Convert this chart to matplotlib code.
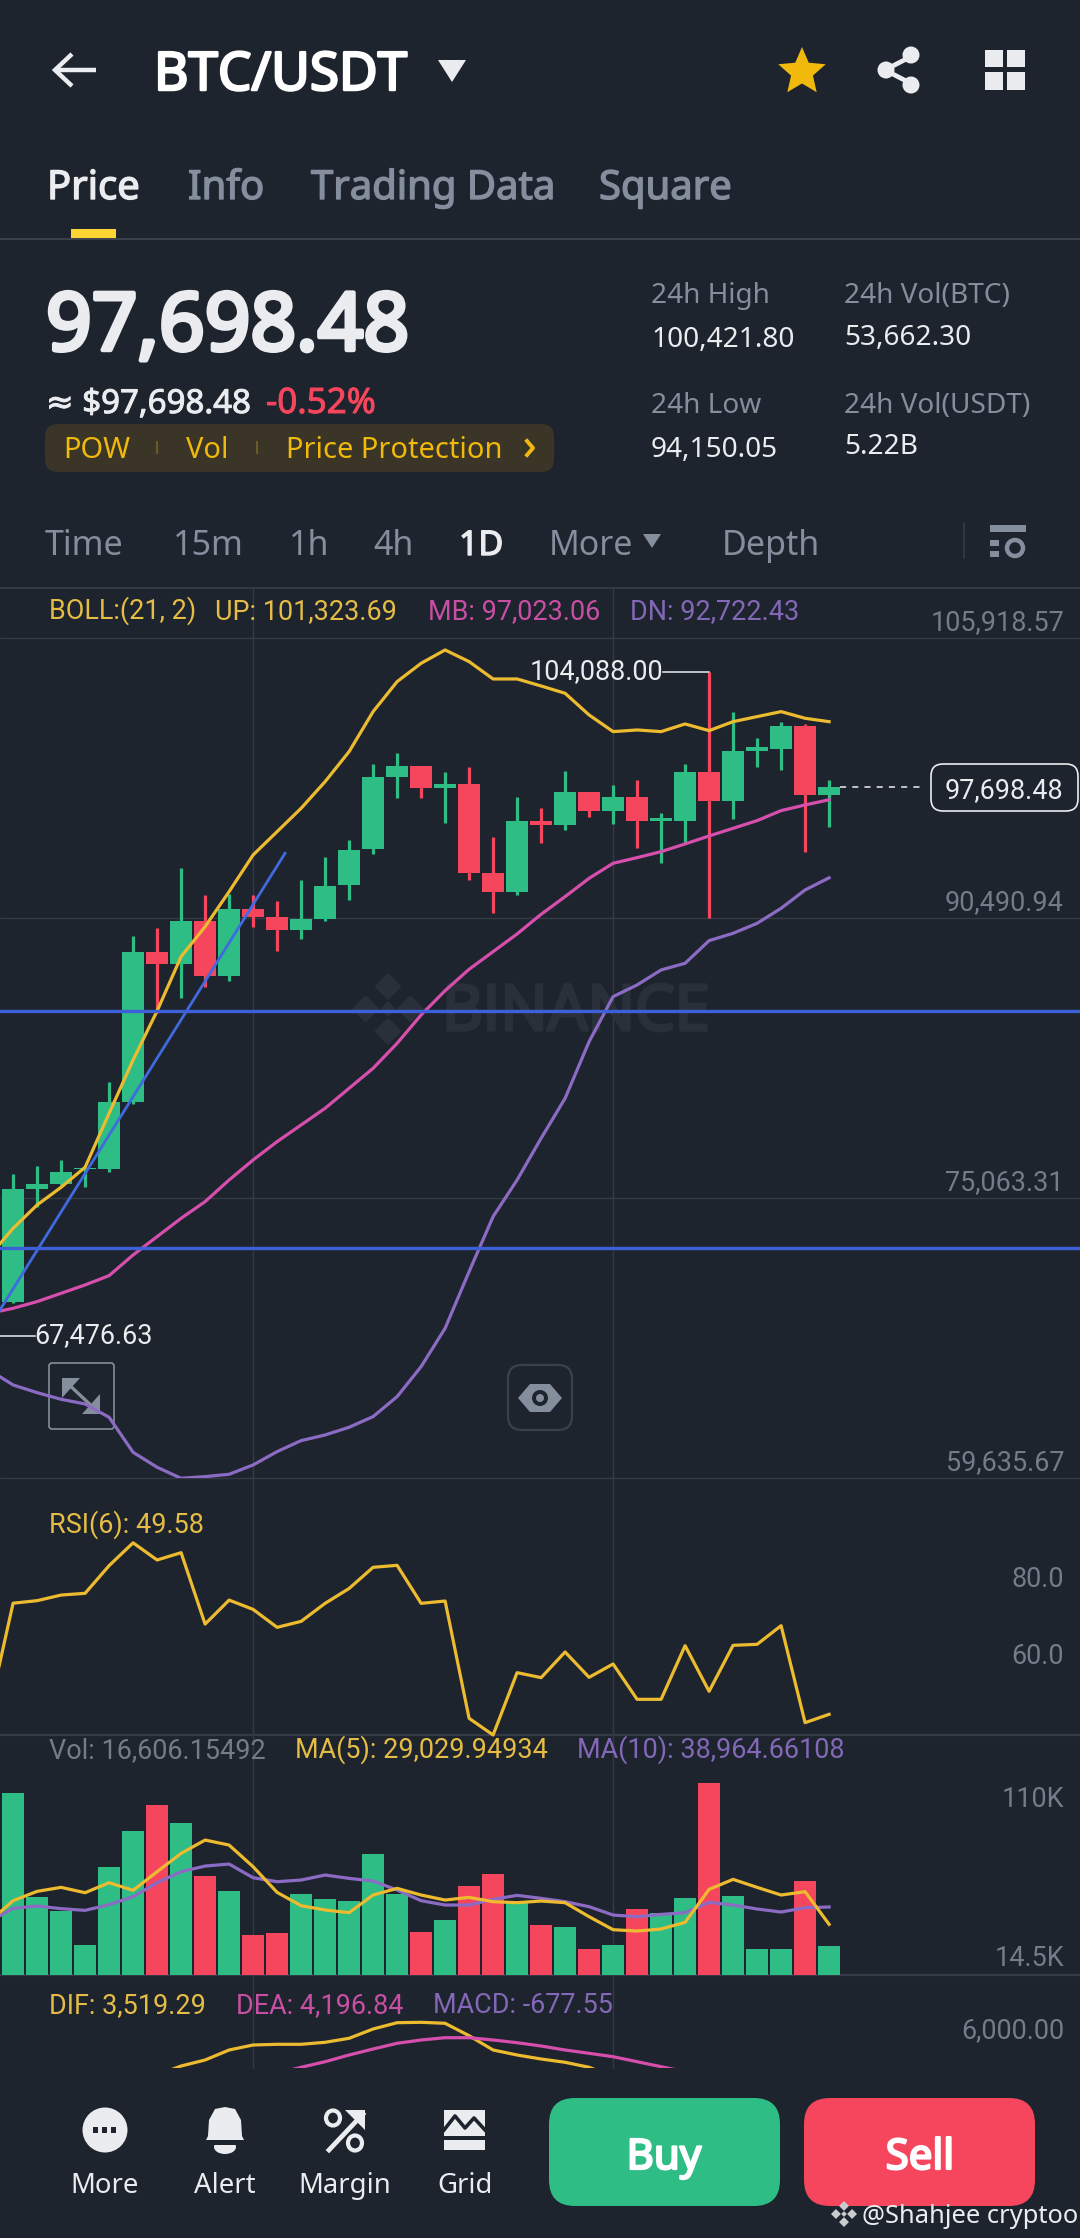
# plot.py
# BTC/USDT daily chart screen: candles with bollinger bands, rsi, volume and macd

import numpy as np
import matplotlib
matplotlib.use("Agg")
import matplotlib.pyplot as plt
import matplotlib.patheffects as pe
from matplotlib.patches import FancyBboxPatch, Polygon, Circle, Ellipse, Rectangle

WIDTH = 1080
HEIGHT = 2238
DPI = 100

BG = "#1E242E"
GRID = "#343B46"
GREEN = "#2EBD85"
RED = "#F6465D"
WHITE = "#EAECEF"
GREY = "#848E9C"
AXIS_GREY = "#747C89"
YELLOW = "#F0B90B"
LINE_YELLOW = "#EDBB2F"
LINE_PINK = "#D64FAC"
LINE_PURPLE = "#8B6BC4"
TEXT_YELLOW = "#E5BD45"
TEXT_PINK = "#C94FA5"
TEXT_PURPLE = "#8468B8"
BLUE = "#3D60D8"

UI_FONT = ["Noto Sans", "DejaVu Sans"]
CHART_FONT = "Roboto"
LINE_WIDTH = 2.3

# candles, one per day, day 0 is the first one on screen
opens = [69371, 75578, 75854, 76662, 76662, 80372, 88637, 87957, 90363, 87333, 91006, 90565,
         89849, 90455, 92310, 94293, 98297, 98885, 97673, 97893, 93008, 91942, 95873, 95634,
         97452, 96405, 97177, 95836, 95854, 98573, 96956, 99730, 99821, 101107, 97269]
highs = [76387, 76846, 77176, 76717, 81492, 89518, 89941, 93246, 91777, 91832, 91777, 91447,
         92604, 93889, 94808, 98995, 99583, 98885, 98554, 98848, 94954, 97195, 96552, 98609,
         97452, 97820, 98113, 96277, 98995, 104088, 101878, 100409, 101327, 101199, 98113]
lows = [69316, 74605, 75799, 75707, 76497, 80262, 85257, 86120, 86690, 87057, 90032, 88710,
        89353, 90363, 91502, 94036, 97103, 97103, 95726, 92604, 90767, 91777, 94624, 95359,
        96056, 95689, 94385, 93559, 94624, 90491, 95965, 98848, 98664, 94150, 95542]
closes = [75560, 75836, 76497, 76717, 80372, 88637, 87957, 90363, 87333, 91006, 90583, 89849,
          90436, 92291, 94275, 98297, 98885, 97673, 97893, 93008, 91942, 95854, 95616, 97452,
          96405, 97177, 95836, 96020, 98573, 96956, 99730, 99913, 101107, 97269, 97698.48]

# bollinger bands, these start one day before the first candle
boll_up = [71850, 73411, 74697, 75670, 76772, 79747, 82686, 85386, 88379, 90032, 91961, 93981,
           95267, 96552, 98022, 99675, 101879, 103531, 104542, 105276, 104634, 103678, 103678,
           103292, 102889, 101695, 100777, 100868, 100777, 101199, 100831, 101327, 101603,
           101879, 101511, 101323.69]
boll_mb = [68728, 69003, 69371, 69830, 70289, 70803, 71942, 72952, 73962, 74880, 76074, 77176,
           78186, 79105, 80023, 81125, 82227, 83604, 85165, 86506, 87682, 88655, 89628, 90712,
           91685, 92695, 93522, 93834, 94165, 94587, 95028, 95450, 95873, 96424, 96736, 97023.06]
boll_dn = [65606, 64778, 64356, 63989, 63732, 62998, 61069, 60243, 59637, 59729, 59857, 60371,
           61106, 61712, 62024, 62447, 63035, 64136, 65789, 67902, 71024, 74054, 76074, 78370,
           80574, 83696, 86176, 86818, 87645, 88012, 89261, 89665, 90216, 91042, 92053, 92722.43]

# lines drawn by the user on the chart
trend_days = [-0.55, 11.33]
trend_prices = [68911, 94073]
level_prices = [85386, 72346]

# rsi starts one day before the first candle too
rsi6 = [50.5, 78.3, 78.95, 80.4, 80.85, 88.0, 93.9, 89.46, 91.35, 72.9, 79.1, 76.7, 72.06, 73.6,
        78.26, 82.1, 87.57, 88.08, 78.26, 78.86, 48.55, 44.24, 60.35, 59.06, 65.69, 59.14, 62.59,
        53.46, 53.46, 67.32, 55.52, 67.41, 67.67, 72.49, 47.43, 49.58]

volumes = [104040, 44860, 36650, 16990, 61850, 82470, 97360, 86860, 56700, 47920, 22910, 23860,
           46580, 43720, 42190, 69300, 46200, 24820, 31310, 50970, 57840, 42000, 28830, 27680,
           14700, 16990, 37990, 35700, 43910, 110000, 45240, 15080, 14700, 54020, 16606.15]
vol_ma5 = [30540, 42570, 47920, 50210, 47150, 52880, 48490, 59180, 69680, 77310, 74450, 62040,
           47340, 39710, 37230, 35700, 45820, 49630, 45820, 42950, 44480, 42000, 41430, 42380,
           41430, 33410, 25960, 25200, 26340, 30160, 49060, 54790, 50210, 45820, 47730, 29029.95]
vol_ma10 = [30540, 38180, 39520, 37990, 37030, 40280, 44860, 52880, 59180, 62420, 63570, 55740,
            53450, 54410, 57270, 55360, 53830, 48680, 42570, 40090, 40090, 43330, 45630, 43910,
            42000, 39130, 34360, 33410, 34740, 35700, 41620, 40090, 37800, 36080, 38560, 38964.66]

# only the part of macd above the screen cut is visible
dif_start = 6
dif_values = [3200, 4100, 4700, 5700, 6200, 6270, 6270, 6470, 6870, 7800, 8430, 8470, 8370, 7130,
              5700, 5200, 4800, 4470, 3970, 3030]
dea_start = 11
dea_values = [3370, 3970, 4530, 5200, 5800, 6370, 6700, 6930, 6930, 6700, 6430, 6100, 5700, 5370,
              5030, 4530, 4030, 3530]

price_ticks = ["105,918.57", "90,490.94", "75,063.31", "59,635.67"]
price_top = 105918.57
price_bottom = 59635.67
grid_days = [10, 25]

tabs = ["Price", "Info", "Trading Data", "Square"]
intervals = ["Time", "15m", "1h", "4h", "1D", "More", "Depth"]
actions = ["More", "Alert", "Margin", "Grid"]

fig = plt.figure(figsize=(WIDTH / DPI, HEIGHT / DPI), dpi=DPI, facecolor=BG)

# background axes in screen pixels, y goes down
screen = fig.add_axes([0, 0, 1, 1], zorder=0)
screen.set_xlim(0, WIDTH)
screen.set_ylim(HEIGHT, 0)
screen.axis("off")


# font size given in pixels
def pts(px):
    return px * 72 / DPI


# puts text on the screen axes, y is the baseline
# the installed fonts have no usable bold, so stroke thickens the letters
def label(x, y, s, color=WHITE, size=27, font=CHART_FONT, stroke=0, ha="left", va="baseline"):
    text = screen.text(x, y, s, color=color, fontsize=pts(size), family=font, ha=ha, va=va)
    if stroke:
        text.set_path_effects([pe.withStroke(linewidth=stroke, foreground=color)])
    return text


# makes a chart panel between two screen y positions
def panel(top, bottom, ymin, ymax):
    ax = fig.add_axes([0, 1 - bottom / HEIGHT, 1, (bottom - top) / HEIGHT], zorder=1)
    ax.set_xlim(-13.1 / 24, (WIDTH - 13.1) / 24)
    ax.set_ylim(ymin, ymax)
    ax.axis("off")
    ax.patch.set_alpha(0)
    return ax


def hline(y, x0=0, x1=WIDTH, color=GRID, lw=1.0):
    screen.plot([x0, x1], [y, y], color=color, lw=lw, solid_capstyle="butt")


def round_box(x0, y0, x1, y1, r, **kwargs):
    box = FancyBboxPatch((x0 + r, y0 + r), x1 - x0 - 2 * r, y1 - y0 - 2 * r,
                         boxstyle="round,pad=%g,rounding_size=%g" % (r, r), **kwargs)
    screen.add_patch(box)


# the binance diamond logo made of small squares
def diamond_logo(cx, cy, r, color):
    for dx, dy, s in [(0, -0.62, 0.38), (0, 0.62, 0.38), (-0.62, 0, 0.38), (0.62, 0, 0.38), (0, 0, 0.22)]:
        x, y, h = cx + dx * r, cy + dy * r, s * r
        screen.add_patch(Polygon([(x, y - h), (x + h, y), (x, y + h), (x - h, y)], color=color, lw=0))


def draw_header():
    # back arrow
    screen.plot([96, 56], [70, 70], color=WHITE, lw=3.2, solid_capstyle="butt")
    screen.plot([72, 55, 72], [54, 70, 86], color=WHITE, lw=3.2, solid_joinstyle="miter", solid_capstyle="butt")
    label(154, 90, "BTC/USDT", size=53, font=UI_FONT, stroke=1.8, color="#FFFFFF")
    screen.add_patch(Polygon([(438, 60), (466, 60), (452, 82)], color=WHITE, lw=0))

    # star
    angles = np.pi / 2 + np.arange(10) * np.pi / 5
    radius = np.where(np.arange(10) % 2 == 0, 25, 11.5)
    screen.add_patch(Polygon(np.c_[802 + radius * np.cos(angles), 72 - radius * np.sin(angles)],
                             color=YELLOW, lw=0, joinstyle="round"))

    # share
    screen.plot([912, 885, 912], [56, 70, 84], color=WHITE, lw=3.4)
    for x, y in [(911, 55), (886, 70), (911, 85)]:
        screen.add_patch(Ellipse((x, y), 17, 17, color=WHITE, lw=0))

    # layout squares
    for x, y, h in [(985, 50, 17), (1007, 50, 17), (985, 72, 18), (1007, 72, 18)]:
        screen.add_patch(Rectangle((x, y), 18, h, color=WHITE, lw=0))

    # tabs
    tab_x = [47, 188, 311, 599]
    for i, name in enumerate(tabs):
        label(tab_x[i], 199, name, size=40, font=UI_FONT, stroke=1.0, color=WHITE if i == 0 else GREY)
    screen.add_patch(Rectangle((71, 229), 45, 10, color="#FCD535", lw=0))
    hline(239, color="#3B424D", lw=1.4)


def draw_summary():
    label(46, 350, "97,698.48", size=80, font=UI_FONT, stroke=3.2)
    label(46, 413, "≈ $97,698.48", size=33, font=UI_FONT, stroke=0.7)
    label(266, 413, "-0.52%", size=35, font=UI_FONT, stroke=0.7, color=RED)

    round_box(45, 424, 554, 472, 13, facecolor="#3A3526", edgecolor="none")
    label(63, 458, "POW", size=29, font=UI_FONT, color=YELLOW)
    label(186, 458, "Vol", size=29, font=UI_FONT, color=YELLOW)
    label(286, 458, "Price Protection", size=29, font=UI_FONT, color=YELLOW)
    for x in [157, 257]:
        screen.plot([x, x], [442, 453], color="#6B5E2A", lw=1.4)
    screen.plot([527, 533, 527], [441, 448, 455], color=YELLOW, lw=2.8)

    label(651, 303, "24h High", size=28, font=UI_FONT, color=GREY)
    label(651, 347, "100,421.80", size=28, font=UI_FONT)
    label(844, 303, "24h Vol(BTC)", size=28, font=UI_FONT, color=GREY)
    label(844, 345, "53,662.30", size=28, font=UI_FONT)
    label(651, 413, "24h Low", size=28, font=UI_FONT, color=GREY)
    label(651, 457, "94,150.05", size=28, font=UI_FONT)
    label(844, 413, "24h Vol(USDT)", size=28, font=UI_FONT, color=GREY)
    label(844, 454, "5.22B", size=28, font=UI_FONT)

    # interval row
    interval_x = [45, 173, 289, 373, 459, 549, 722]
    for i, name in enumerate(intervals):
        active = name == "1D"
        label(interval_x[i], 555, name, size=34, font=UI_FONT, stroke=1.0 if active else 0,
              color=WHITE if active else GREY)
    screen.add_patch(Polygon([(643, 534), (661, 534), (652, 548)], color=GREY, lw=0))
    screen.plot([964, 964], [523, 558], color=GRID, lw=1.2)
    screen.add_patch(Rectangle((990, 525), 36, 7, color=GREY, lw=0))
    screen.add_patch(Rectangle((990, 540), 9, 6, color=GREY, lw=0))
    screen.add_patch(Rectangle((990, 551), 9, 6, color=GREY, lw=0))
    screen.add_patch(Circle((1015, 548), 8, facecolor="none", edgecolor=GREY, lw=3.2))
    hline(588, lw=1.4)


def draw_grid():
    to_x = lambda day: 13.1 + 24 * day
    for day in grid_days:
        screen.plot([to_x(day), to_x(day)], [588, 2068], color=GRID, lw=1.0)
    for y in [638.3, 918.3, 1198.3, 1478.3]:
        hline(y)
    hline(1735, lw=1.6)
    hline(1975, lw=1.6)


def draw_watermark():
    diamond_logo(388, 1009, 36, "#2A303A")
    label(442, 1030, "BINANCE", size=63, font="Open Sans", stroke=2.5, color="#2A303A")


def draw_price_panel():
    ax = panel(638.3, 1478.3, price_bottom, price_top)
    days = np.arange(len(closes))
    body_bottom = np.minimum(opens, closes)
    body_height = np.abs(np.array(closes) - np.array(opens))
    colors = [GREEN if c >= o else RED for o, c in zip(opens, closes)]

    ax.vlines(days, lows, highs, colors=colors, lw=2.3, zorder=2)
    ax.bar(days, body_height, bottom=body_bottom, width=0.89, color=colors, lw=0, zorder=3)

    band_days = np.arange(-1, len(closes))
    ax.plot(band_days, boll_up, color=LINE_YELLOW, lw=LINE_WIDTH, zorder=4)
    ax.plot(band_days, boll_mb, color=LINE_PINK, lw=LINE_WIDTH, zorder=4)
    ax.plot(band_days, boll_dn, color=LINE_PURPLE, lw=LINE_WIDTH, zorder=4)

    ax.plot(trend_days, trend_prices, color="#3F6AE0", lw=2.0, zorder=5)
    for level in level_prices:
        ax.axhline(level, color=BLUE, lw=2.4, zorder=5)

    # high and low markers
    high_day = highs.index(max(highs))
    ax.plot([high_day - 1.92, high_day], [max(highs), max(highs)], color=WHITE, lw=1.1, zorder=5)
    ax.text(high_day - 1.92, max(highs), "104,088.00", color=WHITE, fontsize=pts(27), family=CHART_FONT,
            ha="right", va="center", zorder=5)
    ax.plot([-0.55, 0.9], [67476.63, 67476.63], color=WHITE, lw=1.1, zorder=5)
    ax.text(0.9, 67476.63, "67,476.63", color=WHITE, fontsize=pts(27), family=CHART_FONT,
            ha="left", va="center", zorder=5)

    # last price marker
    last = closes[-1]
    ax.plot([len(closes) - 1 + 0.45, 37.8], [last, last], color=WHITE, lw=1.1, dashes=(4, 4), zorder=5)


def draw_chart_texts():
    label(49, 619, "BOLL:(21, 2)", color=TEXT_YELLOW)
    label(215, 619, "UP: 101,323.69", color=TEXT_YELLOW)
    label(428, 619, "MB: 97,023.06", color=TEXT_PINK)
    label(630, 619, "DN: 92,722.43", color=TEXT_PURPLE)
    for y, s in zip([630, 910, 1190, 1470], price_ticks):
        label(1064, y, s, color=AXIS_GREY, ha="right")

    round_box(931, 764, 1078, 811, 12, facecolor=BG, edgecolor=WHITE, lw=1.2, zorder=6)
    label(1004, 788, "97,698.48", size=27, ha="center", va="center_baseline").set_zorder(7)

    label(49, 1533, "RSI(6): 49.58", color=TEXT_YELLOW)
    label(1064, 1587, "80.0", color=AXIS_GREY, ha="right")
    label(1064, 1664, "60.0", color=AXIS_GREY, ha="right")

    label(49, 1758, "Vol: 16,606.15492", color=AXIS_GREY)
    label(295, 1758, "MA(5): 29,029.94934", color=TEXT_YELLOW)
    label(577, 1758, "MA(10): 38,964.66108", color=TEXT_PURPLE)
    label(1064, 1807, "110K", color=AXIS_GREY, ha="right")
    label(1064, 1966, "14.5K", color=AXIS_GREY, ha="right")

    label(49, 2013, "DIF: 3,519.29", color=TEXT_YELLOW)
    label(236, 2013, "DEA: 4,196.84", color=TEXT_PINK)
    label(433, 2013, "MACD: -677.55", color=TEXT_PURPLE)
    label(1064, 2038, "6,000.00", color=AXIS_GREY, ha="right")

    # expand button
    round_box(49, 1363, 114, 1429, 3, facecolor="none", edgecolor=GREY, lw=1.2)
    screen.add_patch(Polygon([(62, 1378), (80, 1378), (62, 1398)], color=GREY, lw=0))
    screen.add_patch(Polygon([(100, 1414), (82, 1414), (100, 1394)], color=GREY, lw=0))
    screen.plot([66, 96], [1382, 1410], color=GREY, lw=2.4)

    # eye button
    round_box(508, 1365, 572, 1430, 14, facecolor="none", edgecolor="#3A414C", lw=1.6)
    screen.add_patch(Polygon([(518, 1398), (530, 1384), (550, 1384), (562, 1398), (550, 1412), (530, 1412)],
                             color=GREY, lw=0))
    screen.add_patch(Circle((540, 1398), 8, color=BG, lw=0))
    screen.add_patch(Circle((540, 1398), 4, color=GREY, lw=0))


def draw_rsi_panel():
    ax = panel(1480, 1735, 44.24, 110.13)
    ax.plot(np.arange(-1, len(closes)), rsi6, color=LINE_YELLOW, lw=LINE_WIDTH, clip_on=False)


def draw_volume_panel():
    ax = panel(1783, 1975, 0, 110000)
    days = np.arange(len(volumes))
    colors = [GREEN if c >= o else RED for o, c in zip(opens, closes)]
    ax.bar(days, volumes, width=0.89, color=colors, lw=0, zorder=2)
    ma_days = np.arange(-1, len(volumes))
    ax.plot(ma_days, vol_ma10, color=LINE_PURPLE, lw=LINE_WIDTH, zorder=3)
    ax.plot(ma_days, vol_ma5, color=LINE_YELLOW, lw=LINE_WIDTH, zorder=4)


def draw_macd_panel():
    ax = panel(1975, 2068, 3900, 13200)
    ax.plot(np.arange(dif_start, dif_start + len(dif_values)), dif_values, color=LINE_YELLOW, lw=LINE_WIDTH)
    ax.plot(np.arange(dea_start, dea_start + len(dea_values)), dea_values, color=LINE_PINK, lw=LINE_WIDTH)


def draw_footer():
    # more
    screen.add_patch(Ellipse((105, 2130), 45, 45, color=WHITE, lw=0))
    for x in [93, 102, 111]:
        screen.add_patch(Rectangle((x, 2127), 5, 6, color=BG, lw=0))

    # bell
    screen.add_patch(Polygon([(205, 2142), (208, 2136), (209, 2120), (215, 2109), (225, 2107), (235, 2109),
                              (241, 2120), (242, 2136), (245, 2142)], color=WHITE, lw=0))
    screen.add_patch(Ellipse((225, 2147), 22, 14, color=WHITE, lw=0))
    screen.add_patch(Rectangle((205, 2140), 40, 5, color=BG, lw=0))

    # margin
    screen.plot([329, 363], [2150, 2114], color=WHITE, lw=3.4)
    screen.add_patch(Polygon([(345, 2110), (365, 2110), (365, 2130)], color=WHITE, lw=0))
    screen.add_patch(Ellipse((333, 2118), 14, 15, facecolor="none", edgecolor=WHITE, lw=3))
    screen.add_patch(Ellipse((355, 2143), 14, 15, facecolor="none", edgecolor=WHITE, lw=3))

    # grid
    screen.add_patch(Rectangle((444, 2110), 41, 26, color=WHITE, lw=0))
    screen.plot([444, 455, 465, 474, 485], [2130, 2116, 2128, 2118, 2130], color=BG, lw=2.6)
    screen.add_patch(Rectangle((444, 2140), 41, 10, color=WHITE, lw=0))

    for x, name in zip([105, 225, 345, 465], actions):
        label(x, 2193, name, size=27.5, font=UI_FONT, ha="center")

    round_box(549, 2098, 780, 2206, 26, facecolor=GREEN, edgecolor="none")
    round_box(804, 2098, 1035, 2206, 26, facecolor=RED, edgecolor="none")
    label(664, 2169, "Buy", size=42, font=UI_FONT, stroke=1.6, color="#FFFFFF", ha="center")
    label(920, 2169, "Sell", size=42, font=UI_FONT, stroke=1.6, color="#FFFFFF", ha="center")

    diamond_logo(844, 2214, 13, "#C9CBCE")
    label(862, 2223, "@Shahjee cryptoo", size=25.5, font=UI_FONT, color=WHITE)


def main():
    draw_header()
    draw_summary()
    draw_grid()
    draw_watermark()
    draw_price_panel()
    draw_chart_texts()
    draw_rsi_panel()
    draw_volume_panel()
    draw_macd_panel()
    draw_footer()
    fig.savefig("out.png", dpi=DPI, facecolor=BG)


if __name__ == "__main__":
    main()
